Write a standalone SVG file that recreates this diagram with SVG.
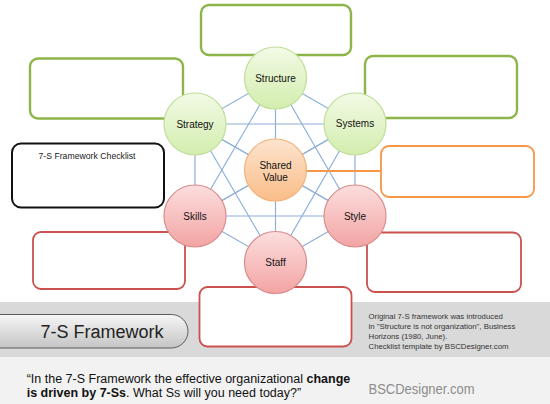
<svg xmlns="http://www.w3.org/2000/svg" width="550" height="404" viewBox="0 0 550 404">
<defs>
<linearGradient id="gG" x1="0" y1="0" x2="0" y2="1"><stop offset="0" stop-color="#f2faE6"/><stop offset="1" stop-color="#d3edae"/></linearGradient>
<linearGradient id="gO" x1="0" y1="0" x2="0" y2="1"><stop offset="0" stop-color="#fde4cf"/><stop offset="1" stop-color="#f9bd88"/></linearGradient>
<linearGradient id="gR" x1="0" y1="0" x2="0" y2="1"><stop offset="0" stop-color="#fcdede"/><stop offset="1" stop-color="#f3a4a4"/></linearGradient>
<linearGradient id="gP" x1="0" y1="0" x2="0" y2="1"><stop offset="0" stop-color="#f7f7f7"/><stop offset="1" stop-color="#c4c4c4"/></linearGradient>
</defs>
<style>
.box{fill:#fff;stroke-width:2.4}
.bg{stroke:#8db54a}
.br{stroke:#c9514e;stroke-width:1.8}
.bo{stroke:#f79646;stroke-width:1.8}
.bk{stroke:#111;stroke-width:2}
.cg{fill:url(#gG);stroke:#c0de98;stroke-width:1.2}
.co{fill:url(#gO);stroke:#f5b07a;stroke-width:1.2}
.cr{fill:url(#gR);stroke:#d98c8c;stroke-width:1.2}
.lbl{font-family:"Liberation Sans",Arial,sans-serif;font-size:10px;fill:#111;text-anchor:middle}
#connectors line{stroke:#8eb0da;stroke-width:1.2}
</style>
<rect x="0" y="0" width="550" height="404" fill="#fff"/>
<rect x="0" y="302" width="550" height="55" fill="#d9d9d9"/>
<rect x="0" y="357" width="550" height="47" fill="#f2f2f2"/>

<g id="box-structure"><rect class="box bg" x="201" y="5" width="150" height="50" rx="8"/></g>
<g id="box-strategy"><rect class="box bg" x="30" y="58.5" width="153" height="60" rx="8"/></g>
<g id="box-systems"><rect class="box bg" x="365" y="56" width="152" height="62" rx="8"/></g>
<g id="box-checklist"><rect class="box bk" x="12" y="143.5" width="152" height="64" rx="9"/>
<text x="87" y="158.5" style="font-family:'Liberation Sans',Arial,sans-serif;font-size:8.7px;fill:#222;text-anchor:middle">7-S Framework Checklist</text></g>
<g id="box-shared"><rect class="box bo" x="381" y="146" width="153" height="51" rx="8"/></g>
<g id="box-skills"><rect class="box br" x="33" y="232" width="152" height="57" rx="8"/></g>
<g id="box-style"><rect class="box br" x="367" y="232.5" width="154" height="59.5" rx="8"/></g>
<g id="box-staff"><rect class="box br" x="199.5" y="287" width="152" height="59.5" rx="8"/></g>

<g id="connectors">
<line x1="275.5" y1="78" x2="195" y2="124"/>
<line x1="275.5" y1="78" x2="355" y2="124"/>
<line x1="275.5" y1="78" x2="275.5" y2="170"/>
<line x1="275.5" y1="78" x2="195" y2="216"/>
<line x1="275.5" y1="78" x2="355" y2="216"/>
<line x1="195" y1="124" x2="355" y2="124"/>
<line x1="195" y1="124" x2="275.5" y2="170"/>
<line x1="195" y1="124" x2="195" y2="216"/>
<line x1="195" y1="124" x2="355" y2="216"/>
<line x1="195" y1="124" x2="275.5" y2="262"/>
<line x1="355" y1="124" x2="275.5" y2="170"/>
<line x1="355" y1="124" x2="355" y2="216"/>
<line x1="355" y1="124" x2="195" y2="216"/>
<line x1="355" y1="124" x2="275.5" y2="262"/>
<line x1="275.5" y1="170" x2="195" y2="216"/>
<line x1="275.5" y1="170" x2="355" y2="216"/>
<line x1="275.5" y1="170" x2="275.5" y2="262"/>
<line x1="195" y1="216" x2="355" y2="216"/>
<line x1="195" y1="216" x2="275.5" y2="262"/>
<line x1="355" y1="216" x2="275.5" y2="262"/>
<line x1="306" y1="171" x2="381" y2="171" style="stroke:#f79646;stroke-width:1.8"/>
</g>

<g id="node-structure"><circle class="cg" cx="275.5" cy="78" r="31"/><text class="lbl" x="275.5" y="81.5">Structure</text></g>
<g id="node-strategy"><circle class="cg" cx="195" cy="124" r="31"/><text class="lbl" x="195" y="127.5">Strategy</text></g>
<g id="node-systems"><circle class="cg" cx="355" cy="124" r="31"/><text class="lbl" x="355" y="127">Systems</text></g>
<g id="node-shared"><circle class="co" cx="275.5" cy="170" r="31"/><text class="lbl" x="275.5" y="168.5">Shared</text><text class="lbl" x="275.5" y="181">Value</text></g>
<g id="node-skills"><circle class="cr" cx="195" cy="216" r="31"/><text class="lbl" x="195" y="219.5">Skills</text></g>
<g id="node-style"><circle class="cr" cx="355" cy="216" r="31"/><text class="lbl" x="355" y="219.5">Style</text></g>
<g id="node-staff"><circle class="cr" cx="275.5" cy="262.5" r="31"/><text class="lbl" x="275.5" y="266">Staff</text></g>

<g id="title"><rect x="-30" y="314.5" width="218" height="33.5" rx="16.75" fill="url(#gP)" stroke="#5a5a5a" stroke-width="1"/>
<text x="102" y="337.7" style="font-family:'Liberation Sans',Arial,sans-serif;font-size:18px;fill:#222;text-anchor:middle">7-S Framework</text></g>

<g id="note" style="font-family:'Liberation Sans',Arial,sans-serif;font-size:7.8px;fill:#333">
<text x="368.5" y="318.5">Original 7-S framework was introduced</text>
<text x="368.5" y="328.5">in "Structure is not organization", Business</text>
<text x="368.5" y="338.5">Horizons (1980, June).</text>
<text x="368.5" y="348.5">Checklist template by BSCDesigner.com</text>
</g>

<g id="quote" style="font-family:'Liberation Sans',Arial,sans-serif;font-size:12.5px;fill:#111">
<text x="26.7" y="383.3">“In the 7-S Framework the effective organizational <tspan font-weight="bold">change</tspan></text>
<text x="26.7" y="396.7"><tspan font-weight="bold">is driven by 7-Ss</tspan>. What Ss will you need today?”</text>
</g>
<text x="368.5" y="394.3" textLength="106" lengthAdjust="spacingAndGlyphs" style="font-family:'Liberation Sans',Arial,sans-serif;font-size:14px;fill:#8c8c8c">BSCDesigner.com</text>
</svg>
